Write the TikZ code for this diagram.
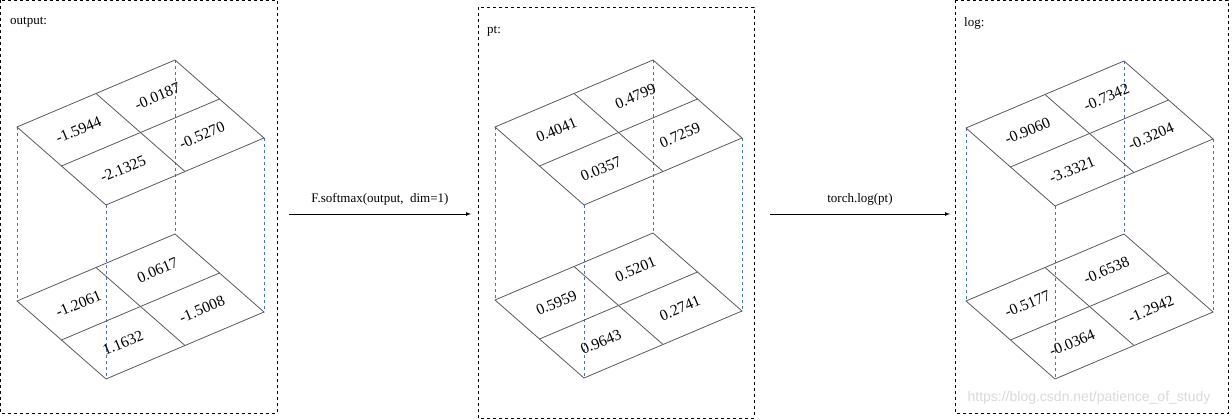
\documentclass[tikz,border=0pt]{standalone}
\usepackage{fontspec}
\setmainfont{Liberation Serif}
\setsansfont{Liberation Sans}
\begin{document}
\begin{tikzpicture}[x=1pt,y=-1pt,
  grid/.style={draw=black!65,line width=0.8pt},
  vdash/.style={draw={rgb,255:red,68;green,114;blue,196},dashed,line width=0.8pt},
  frame/.style={draw=black,dashed,line width=0.7pt},
  val/.style={font=\fontsize{15.5}{15.5}\selectfont,rotate=23,inner sep=0pt},
  ttl/.style={font=\fontsize{13}{13}\selectfont,anchor=north west,inner sep=0pt},
  arr/.style={-latex,line width=0.7pt}]
\useasboundingbox (0,0) rectangle (1232,420);
\newcommand\mysheet[6]{%
  \begin{scope}[shift={(#1,#2)}]
    \coordinate (L) at (0,0); \coordinate (T) at (158,-67);
    \coordinate (R) at (247,11); \coordinate (B) at (89,78);
    \draw[grid] (L)--(T)--(R)--(B)--cycle;
    \draw[grid] (79,-33.5)--(168,44.5);
    \draw[grid] (44.5,39)--(202.5,-28);
    \node[val] at (61.5,2.75) {#3};
    \node[val] at (140.5,-30.75) {#4};
    \node[val] at (106,41.75) {#5};
    \node[val] at (185,8.25) {#6};
  \end{scope}}
\newcommand\myverts[3]{%
  \begin{scope}[shift={(#1,#2)}]
    \draw[vdash] (0,0)--(0,#3); \draw[vdash] (158,-67)--(158,-67+#3);
    \draw[vdash] (247,11)--(247,11+#3); \draw[vdash] (89,78)--(89,78+#3);
  \end{scope}}
% panel 1
\draw[frame] (0.5,0.5) rectangle (277,413);
\node[ttl] (t1) at (10,17) {output:};
\myverts{17}{127}{174}
\mysheet{17}{127}{-1.5944}{-0.0187}{-2.1325}{-0.5270}
\mysheet{17}{301}{-1.2061}{0.0617}{1.1632}{-1.5008}
% panel 2
\draw[frame] (478,7) rectangle (754,418);
\node[ttl] (t2) at (487,26) {pt:};
\myverts{495}{127}{173}
\mysheet{495}{127}{0.4041}{0.4799}{0.0357}{0.7259}
\mysheet{495}{300}{0.5959}{0.5201}{0.9643}{0.2741}
% panel 3
\draw[frame] (955,0.5) rectangle (1228,413);
\node[ttl] (t3) at (964,17) {log:};
\myverts{966}{128}{173}
\mysheet{966}{128}{-0.9060}{-0.7342}{-3.3321}{-0.3204}
\mysheet{966}{301}{-0.5177}{-0.6538}{-0.0364}{-1.2942}
% arrows
\coordinate (a1) at (289,214); \coordinate (b1) at (471,214);
\coordinate (a2) at (770,214); \coordinate (b2) at (950,214);
\draw[arr] (a1) -- node[above=5pt,font=\fontsize{13}{13}\selectfont] {F.softmax(output,\ \ dim=1)} (b1);
\draw[arr] (a2) -- node[above=5pt,font=\fontsize{13}{13}\selectfont] {torch.log(pt)} (b2);
\node[text=black!15,font=\fontsize{14}{14}\selectfont\sffamily] (wm) at (1089,398) {https://blog.csdn.net/patience\_of\_study};
\end{tikzpicture}
\end{document}
